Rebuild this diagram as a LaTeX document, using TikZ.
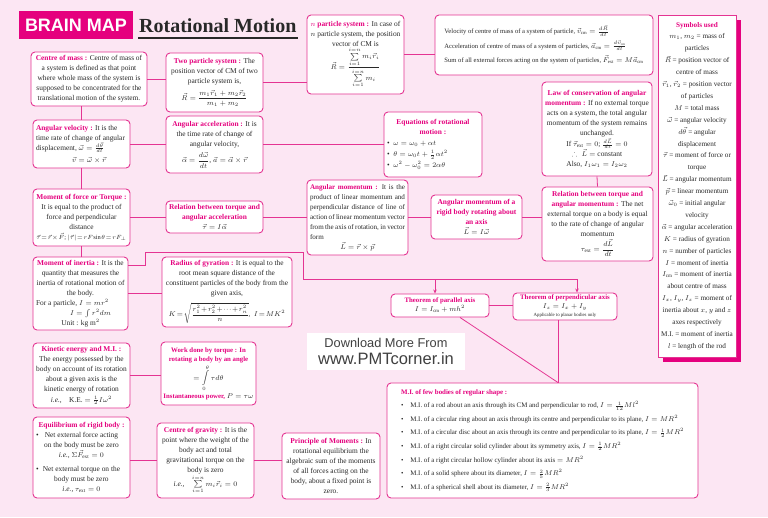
\documentclass[tikz,border=0pt]{standalone}
\usepackage{amsmath, amssymb}
\usepackage{fontspec}
\setmainfont{Liberation Serif}
\newfontfamily\titlesans{Liberation Sans}
\usetikzlibrary{arrows.meta,shadows}
\definecolor{rosePage}{RGB}{252,230,243}
\definecolor{roseBord}{RGB}{228,52,146}
\definecolor{roseTitre}{RGB}{229,0,126}
\definecolor{texteFonce}{RGB}{40,40,40}
\newcommand{\hd}[1]{{\color{roseTitre}\bfseries #1}}
\newcommand{\sanscoupure}{\hyphenpenalty=10000\relax}
\newcommand{\serre}{\thickmuskip=2mu\medmuskip=1.5mu\thinmuskip=1mu\relax}

\begin{document}
\begin{tikzpicture}[x=1pt, y=-1pt, font=\fontsize{7.4}{10}\selectfont\sanscoupure, text=texteFonce,
  carte/.style={draw=roseBord, fill=white, rounded corners=4pt, line width=0.9pt,
                inner xsep=3pt, inner ysep=1pt, align=flush center},
  lien/.style={draw=roseBord, line width=0.8pt},
  fleche/.style={lien, -{Stealth[length=4pt,width=3.5pt]}}]

\fill[rosePage] (0,0) rectangle (768,517);
\useasboundingbox (0,0) rectangle (768,517);

% titre
\node[fill=roseTitre, text=white, font=\titlesans\bfseries\fontsize{18}{18}\selectfont,
      minimum width=114pt, minimum height=28pt, inner sep=0pt] (titre) at (76,25) {BRAIN MAP};
\node[font=\bfseries\fontsize{20}{20}\selectfont, anchor=base west, inner xsep=1pt] (sujet) at (138,32) {Rotational Motion};
\draw[texteFonce, line width=1.2pt] ([yshift=-6pt]sujet.base west) -- ([yshift=-6pt]sujet.base east);

% colonne de gauche
\node[carte, text width=110pt, minimum height=54pt] (cdm) at (89,79)
  {\hd{Centre of mass :} Centre of mass of a system is defined as that point where whole mass of the system is supposed to be concentrated for the translational motion of the system.};
\node[carte, text width=91pt, minimum height=48pt, align=flush left] (vitang) at (81.5,144)
  {\hd{Angular velocity :} It is the time rate of change of angular displacement, $\vec\omega=\frac{d\vec\theta}{dt}$\\[2pt]
   \hspace*{36pt}$\vec v=\vec\omega\times\vec r$};
\node[carte, text width=91pt, minimum height=57pt] (couple) at (81.5,217.5)
  {\hd{Moment of force or Torque :}\\ It is equal to the product of force and perpendicular distance\\
   \makebox[\linewidth]{\fontsize{6.4}{8.5}\selectfont\serre $\vec\tau=\vec r\times\vec F$;\ $|\vec\tau|=rF\sin\theta=rF_\perp$}};
\node[carte, text width=89pt, minimum height=73pt] (inertie) at (80.5,293.5)
  {\hd{Moment of inertia :} It is the quantity that measures the inertia of rotational motion of the body.\\
   \makebox[\linewidth][l]{For a particle, $I=mr^2$}\\ \hspace*{20pt}$I=\int r^2dm$\\ Unit : kg m$^2$};
\node[carte, text width=91pt, minimum height=65pt] (ecin) at (81.5,375.5)
  {\hd{Kinetic energy and M.I. :} The energy possessed by the body on account of its rotation about a given axis is the kinetic energy of rotation\\[1pt]
   \textit{i.e.,}\quad K.E. $=\frac{1}{2}I\omega^2$};
\node[carte, text width=91pt, minimum height=81pt] (equil) at (81.5,457.5)
  {\hd{Equilibrium of rigid body :}\\
   \makebox[\linewidth][l]{\textbullet\ \parbox[t]{82pt}{\centering Net external force acting on the body must be zero\\ \textit{i.e.,} $\Sigma\vec F_{\rm ext}=0$}}\\[7pt]
   \makebox[\linewidth][l]{\textbullet\ \parbox[t]{82pt}{\centering Net external torque on the body must be zero\\ \textit{i.e.,} $\tau_{\rm ext}=0$}}};

% deuxieme colonne
\node[carte, text width=91pt, minimum height=59pt] (deuxp) at (214.5,82.5)
  {\hd{Two particle system :} The position vector of CM of two particle system is,\\[4pt]
   $\vec R=\dfrac{m_1\vec r_1+m_2\vec r_2}{m_1+m_2}$};
\node[carte, text width=91pt, minimum height=57pt] (accang) at (214.5,144.5)
  {\hd{Angular acceleration :} It is the time rate of change of angular velocity,\\[4pt]
   $\vec\alpha=\dfrac{d\vec\omega}{dt}$,\ $\vec a=\vec\alpha\times\vec r$};
\node[carte, text width=91pt, minimum height=32pt] (taualpha) at (214.5,217)
  {\hd{Relation between torque and angular acceleration}\\ $\vec\tau=I\vec\alpha$};
\node[carte, text width=124pt, minimum height=70pt] (giration) at (227,292)
  {\hd{Radius of gyration :} It is equal to the root mean square distance of the constituent particles of the body from the given axis,\\[4pt]
   \makebox[\linewidth]{\fontsize{6.8}{9}\selectfont\serre $K=\sqrt{\dfrac{r_1^2+r_2^2+\dots+r_n^2}{n}}$,\ \ $I=MK^2$}};
\node[carte, text width=91pt, inner xsep=2pt, minimum height=63pt, font=\fontsize{6.8}{9.6}\selectfont] (travail) at (208.5,373.5)
  {\hd{Work done by torque : In rotating a body by an angle}\\[1pt]
   $=\displaystyle\int\limits_0^\theta\tau d\theta$\\[1pt]
   \mbox{\hd{Instantaneous power,} $P=\tau\omega$}};
\node[carte, text width=91pt, minimum height=75pt] (cdg) at (205.5,460.5)
  {\hd{Centre of gravity :} It is the point where the weight of the body act and total gravitational torque on the body is zero\\
   \textit{i.e.,}\quad $\sum\limits_{i=1}^{i=n}m_i\vec r_i=0$};
\node[carte, text width=92pt, minimum height=66pt] (moments) at (331,466)
  {\hd{Principle of Moments :} In rotational equilibrium the algebraic sum of the moments of all forces acting on the body, about a fixed point is zero.};

% colonne centrale
\node[carte, text width=91pt, minimum height=79pt] (npart) at (355.5,54.5)
  {\hd{$n$ particle system :} In case of $n$ particle system, the position vector of CM is\\
   $\vec R=\dfrac{\sum\limits_{i=1}^{i=n}m_i\vec r_i}{\sum\limits_{i=1}^{i=n}m_i}$};
\node[carte, minimum width=218pt, minimum height=60pt, align=flush left, font=\fontsize{6.6}{9.4}\selectfont] (vcm) at (544,45)
  {Velocity of centre of mass of a system of particle, $\vec v_{\rm cm}=\frac{d\vec R}{dt}$\\[5pt]
   Acceleration of centre of mass of a system of particles, $\vec a_{\rm cm}=\frac{d\vec v_{\rm cm}}{dt}$\\[5pt]
   Sum of all external forces acting on the system of particles, $\vec F_{\rm ext}=M\vec a_{\rm cm}$};
\node[carte, text width=92pt, minimum height=65pt] (eqrot) at (433,144.5)
  {\hd{Equations of rotational motion :}\\[1pt]
   \makebox[\linewidth][l]{\textbullet\ \ $\omega=\omega_0+\alpha t$}\\[1pt]
   \makebox[\linewidth][l]{\textbullet\ \ $\theta=\omega_0t+\frac{1}{2}\alpha t^2$}\\[1pt]
   \makebox[\linewidth][l]{\textbullet\ \ $\omega^2-\omega_0^2=2\alpha\theta$}};
\node[carte, text width=95pt, minimum height=75pt, align=justify, font=\fontsize{7.1}{10}\selectfont\sanscoupure] (momang) at (357.5,217.5)
  {\hd{Angular momentum :} It is the product of linear momentum and perpendicular distance of line of action of linear momentum vector from the axis of rotation, in vector form\par
   {\centering $\vec L=\vec r\times\vec p$\par}};
\node[carte, text width=85pt, minimum height=44pt] (rigide) at (476.5,217)
  {\hd{Angular momentum of a rigid body rotating about an axis}\\ $\vec L=I\vec\omega$};
\node[carte, text width=104pt, minimum height=94pt] (conserv) at (597,129)
  {\hd{Law of conservation of angular momentum :} If no external torque acts on a system, the total angular momentum of the system remains unchanged.\\[1pt]
   If $\vec\tau_{\rm ext}=0$; $\frac{d\vec L}{dt}=0$\\ $\therefore\ \vec L=$ constant\\ Also, $I_1\omega_1=I_2\omega_2$};
\node[carte, text width=105pt, minimum height=74pt] (tauL) at (597.5,224)
  {\hd{Relation between torque and angular momentum :} The net external torque on a body is equal to the rate of change of angular momentum\\[2pt]
   $\tau_{\rm ext}=\dfrac{d\vec L}{dt}$};

% theoremes
\node[carte, text width=92pt, minimum height=23pt, font=\fontsize{6.8}{9}\selectfont] (paral) at (440,305.5)
  {\hd{Theorem of parallel axis}\\ $I=I_{\rm cm}+mh^2$};
\node[carte, text width=100pt, inner xsep=2pt, minimum height=27pt, inner ysep=0pt, font=\fontsize{6.8}{8.4}\selectfont] (perp) at (565,306.5)
  {\hd{Theorem of perpendicular axis}\\ $I_z=I_x+I_y$\\ {\fontsize{4.8}{5.5}\selectfont Applicable to planar bodies only}};
\node[carte, minimum width=311pt, minimum height=115pt, align=flush left, font=\fontsize{6.9}{9.6}\selectfont] (corps) at (542.5,440.5)
  {\hd{M.I. of few bodies of regular shape :}\\[4pt]
   \textbullet\quad M.I. of a rod about an axis through its CM and perpendicular to rod, $I=\frac{1}{12}Ml^2$\\[4pt]
   \textbullet\quad M.I. of a circular ring about an axis through its centre and perpendicular to its plane, $I=MR^2$\\[4pt]
   \textbullet\quad M.I. of a circular disc about an axis through its centre and perpendicular to its plane, $I=\frac{1}{2}MR^2$\\[4pt]
   \textbullet\quad M.I. of a right circular solid cylinder about its symmetry axis, $I=\frac{1}{2}MR^2$\\[4pt]
   \textbullet\quad M.I. of a right circular hollow cylinder about its axis $=MR^2$\\[4pt]
   \textbullet\quad M.I. of a solid sphere about its diameter, $I=\frac{2}{5}MR^2$\\[4pt]
   \textbullet\quad M.I. of a spherical shell about its diameter, $I=\frac{2}{3}MR^2$};

% symboles
\node[draw=roseBord, fill=white, line width=0.9pt, minimum width=78pt, minimum height=342pt,
      inner sep=1pt, align=center, font=\fontsize{7.2}{11.9}\selectfont,
      drop shadow={shadow xshift=5pt, shadow yshift=-5pt, fill=roseTitre, opacity=1}] (symb) at (697,186)
  {\hd{Symbols used}\\ $m_1$, $m_2$ = mass of\\ particles\\ $\vec R$ = position vector of\\ centre of mass\\
   $\vec r_1$, $\vec r_2$ = position vector\\ of particles\\ $M$ = total mass\\ $\vec\omega$ = angular velocity\\
   $d\vec\theta$ = angular\\ displacement\\ $\vec\tau$ = moment of force or\\ torque\\ $\vec L$ = angular momentum\\
   $\vec p$ = linear momentum\\ $\vec\omega_0$ = initial angular\\ velocity\\ $\vec\alpha$ = angular acceleration\\
   $K$ = radius of gyration\\ $n$ = number of particles\\ $I$ = moment of inertia\\ $I_{\rm cm}$ = moment of inertia\\
   about centre of mass\\ $I_x$, $I_y$, $I_z$ = moment of\\ inertia about $x$, $y$ and $z$\\ axes respectively\\
   M.I. = moment of inertia\\ $l$ = length of the rod};

% publicite
\node[fill=white, minimum width=158pt, minimum height=37pt, inner sep=0pt, align=center,
      font=\titlesans\fontsize{14}{17.5}\selectfont, text=black!75] (pub) at (386,351.5)
  {{\fontsize{12.8}{14}\selectfont Download More From}\\ {\fontsize{16.5}{17}\selectfont www.PMTcorner.in}};

% liaisons
\draw[lien] (cdm.east) -- (cdm.east -| deuxp.west);
\draw[lien] (deuxp.east) -- (deuxp.east -| npart.west);
\draw[lien] (npart.east) -- (npart.east -| vcm.west);
\draw[lien] (vitang.north |- cdm.south) -- (vitang.north);
\draw[lien] (vitang.south) -- (couple.north);
\draw[lien] (couple.south) -- (couple.south |- inertie.north);
\draw[lien] (vitang.east) -- (vitang.east -| accang.west);
\draw[lien] (accang.east) -- (accang.east -| eqrot.west);
\draw[lien] (couple.east) -- (couple.east -| taualpha.west);
\draw[lien] (taualpha.east) -- (taualpha.east -| momang.west);
\draw[lien] (momang.east) -- (momang.east -| rigide.west);
\draw[lien] (rigide.east) -- (rigide.east -| tauL.west);
\draw[lien] (conserv.south) -- (tauL.north);
\draw[lien] (inertie.east) -- (inertie.east -| giration.west);
\draw[lien] ([yshift=-9pt]inertie.north east) -- ++(17,0) -- ++(0,-13) -- ++(158,0) -- ++(0,27) coordinate (bus);
\draw[fleche] (bus) -| ([xshift=-5pt]paral.north);
\draw[fleche] (bus) -| ([xshift=12pt]perp.north);
\draw[lien] (ecin.east) -- (ecin.east -| travail.west);
\draw[lien] (cdg.west -| equil.east) -- (cdg.west);
\draw[lien] (cdg.east) -- (cdg.east -| moments.west);
\draw[lien] (paral.east) -- (paral.east -| perp.west);
\coordinate (haut) at ([xshift=15.5pt]corps.north);
\draw[lien] ([xshift=20pt]paral.south) -- (haut);
\draw[lien] (haut |- perp.south) -- (haut);

\end{tikzpicture}
\end{document}
